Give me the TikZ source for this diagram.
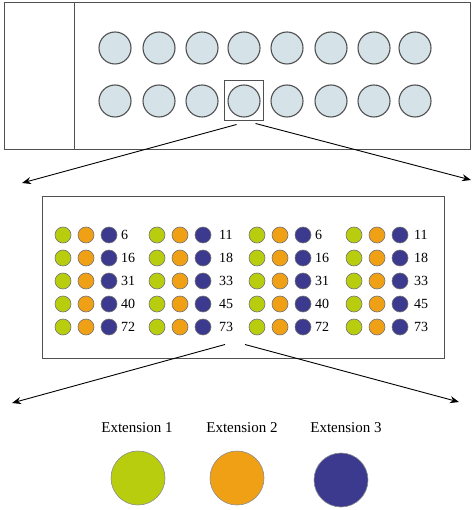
\documentclass[tikz,border=0pt]{standalone}
\usepackage{fontspec}
\setmainfont{Liberation Serif}
\usetikzlibrary{arrows.meta}
\definecolor{wellblue}{HTML}{D5E3E9}
\definecolor{extA}{HTML}{B9CD0F}
\definecolor{extB}{HTML}{F0A014}
\definecolor{extC}{HTML}{3B3A8E}
\definecolor{linegray}{HTML}{505050}
\tikzset{
  well/.style={circle, draw=linegray, line width=1.1pt, fill=wellblue, minimum size=32pt, inner sep=0pt},
  dot/.style={circle, draw=black!55, line width=0.6pt, minimum size=16pt, inner sep=0pt},
  bigdot/.style={circle, draw=black!45, line width=0.6pt, minimum size=54pt, inner sep=0pt},
  zoomline/.style={line width=0.9pt, -{Stealth[length=9pt,width=7pt]}},
  num/.style={anchor=west, inner sep=0pt, font=\fontsize{14}{14}\selectfont},
  extlabel/.style={font=\fontsize{15}{15}\selectfont}
}
\begin{document}
\begin{tikzpicture}[x=1pt,y=-1pt]
\useasboundingbox (0,0) rectangle (474,510);
\draw[linegray, line width=1pt] (4,3) rectangle (470,150);
\draw[linegray, line width=1pt] (74,3) -- (74,150);
\foreach \x [count=\i] in {115,159,202,244,287,331,374,415} {
  \node[well] (wa\i) at (\x,48) {};
  \node[well] (wb\i) at (\x,101) {};
}
\node[draw=linegray, line width=1pt, minimum width=39pt, minimum height=40pt, inner sep=0pt] (zoom) at (243.5,101) {};
%%%%
\coordinate (tl) at (22,183);
\coordinate (tr) at (471,180);
\draw[zoomline] ([xshift=-7pt,yshift=-3pt]zoom.south) -- (tl);
\draw[zoomline] ([xshift=12pt,yshift=-2pt]zoom.south) -- (tr);
%%%%
\node[draw=linegray, line width=1pt, minimum width=402pt, minimum height=161pt, inner sep=0pt] (detail) at (243,277.5) {};
\foreach \gx/\nx/\g in {63/121/1,257/315/3} {
  \foreach \lab [count=\r] in {6,16,31,40,72} {
    \pgfmathsetmacro\yy{212+23*\r}
    \node[dot, fill=extA] (g\g-\r-a) at (\gx,\yy) {};
    \node[dot, fill=extB] (g\g-\r-b) at (\gx+23,\yy) {};
    \node[dot, fill=extC] (g\g-\r-c) at (\gx+46,\yy) {};
    \node[num] (g\g-\r-n) at (\nx,\yy) {\lab};
  }
}
\foreach \gx/\nx/\g in {157/219/2,354/414/4} {
  \foreach \lab [count=\r] in {11,18,33,45,73} {
    \pgfmathsetmacro\yy{212+23*\r}
    \node[dot, fill=extA] (g\g-\r-a) at (\gx,\yy) {};
    \node[dot, fill=extB] (g\g-\r-b) at (\gx+23,\yy) {};
    \node[dot, fill=extC] (g\g-\r-c) at (\gx+46,\yy) {};
    \node[num] (g\g-\r-n) at (\nx,\yy) {\lab};
  }
}
%%%%
\coordinate (bl) at (12,403);
\coordinate (br) at (459,402);
\draw[zoomline] ([xshift=-18pt,yshift=14pt]detail.south) -- (bl);
\draw[zoomline] ([xshift=2pt,yshift=14pt]detail.south) -- (br);
%%%%
\node[extlabel] (ext1) at (137,428) {Extension 1};
\node[extlabel] (ext2) at (242,428) {Extension 2};
\node[extlabel] (ext3) at (346,428) {Extension 3};
\node[bigdot, fill=extA] (big1) at (138,478) {};
\node[bigdot, fill=extB] (big2) at (237,478) {};
\node[bigdot, fill=extC] (big3) at (341,480) {};
\end{tikzpicture}
\end{document}
